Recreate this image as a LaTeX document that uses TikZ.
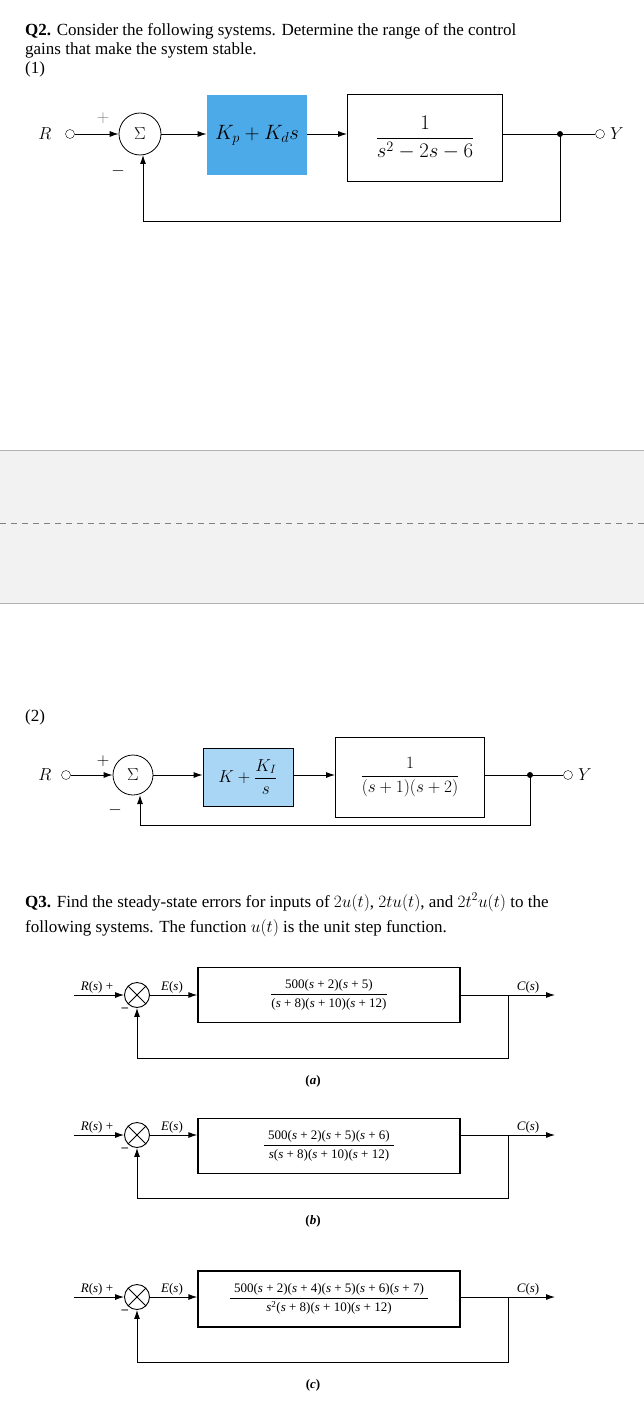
\documentclass[tikz,border=0pt]{standalone}
\usepackage{amsmath}
\usepackage{fontspec}
\setmainfont{Liberation Serif}
\newfontfamily\tms{Liberation Serif}
\usetikzlibrary{arrows.meta}
\definecolor{blueA}{HTML}{4DAAE8}
\definecolor{blueB}{HTML}{A9D6F5}
\definecolor{band}{HTML}{F2F2F2}
\tikzset{
 txt/.style={anchor=base west,inner sep=0pt,font=\fontsize{17}{19}\selectfont},
 lbl/.style={inner sep=0pt,font=\fontsize{18}{20}\selectfont},
 sm/.style={inner sep=0pt,font=\tms\fontsize{13}{15}\selectfont},
 sumc/.style={draw,circle,minimum size=42pt,inner sep=0pt,line width=0.8pt,font=\fontsize{18}{18}\selectfont},
 xsum/.style={draw,circle,minimum size=25pt,inner sep=0pt,line width=0.9pt,path picture={\draw[line width=0.9pt] (path picture bounding box.north west)--(path picture bounding box.south east) (path picture bounding box.north east)--(path picture bounding box.south west);}},
 port/.style={draw,circle,minimum size=9pt,inner sep=0pt,fill=white},
 dot/.style={circle,fill,minimum size=6pt,inner sep=0pt},
 blk/.style={draw,line width=0.9pt,inner sep=0pt},
 ar/.style={-{Latex[length=9pt,width=6pt]},line width=0.9pt},
 ln/.style={line width=0.9pt},
}
\newcommand{\fr}[2]{$\dfrac{\text{\,\,#1\,\,}}{\text{\rule{0pt}{12pt}#2}}$}
\begin{document}
\begin{tikzpicture}[x=1pt,y=-1pt]
\useasboundingbox (0,0) rectangle (644,1404);
% texts
\node[txt] (t1) at (25,36) {\textbf{Q2.} Consider the following systems. Determine the range of the control};
\node[txt] (t2) at (25,55) {gains that make the system stable.};
\node[txt] (t3) at (25,74) {(1)};
% diagram 1
\node[lbl] (R1) at (45,134) {$R$};
\node[port] (p1) at (70,134) {};
\node[sumc] (s1) at (140,134) {$\Sigma$};
\node[blk,draw=none,fill=blueA,minimum width=100pt,minimum height=80pt] (b1) at (257,135) {\fontsize{20}{22}\selectfont$K_p+K_d s$};
\node[blk,minimum width=155pt,minimum height=87pt] (g1) at (425,138) {\fontsize{21}{24}\selectfont$\dfrac{\;\;\;\;1\;\;\;\;}{s^2-2s-6}$};
\coordinate (j1) at (560,134);
\node[dot] at (j1) {};
\node[port] (o1) at (600,134) {};
\node[lbl,anchor=west] (Y1) at (610,134) {$Y$};
\draw[ar] (p1) -- (s1);
\draw[ar] (s1) -- (b1.west|-s1);
\draw[ar] (b1.east|-s1) -- (g1.west|-s1);
\draw[ln] (g1.east|-s1) -- (o1);
\draw[ar] (j1) |- (143,221) -- (143,155);
\node[font=\fontsize{16}{16}\selectfont,text=gray] at (103,118) {$+$};
\node[font=\fontsize{16}{16}\selectfont] at (118,171) {$-$};
% band
\fill[band] (0,450) rectangle (644,603);
\draw[gray!60] (0,450) -- (644,450) (0,603) -- (644,603);
\draw[gray,dash pattern=on 6pt off 5pt] (0,523) -- (644,523);
% (2)
\node[txt] (t4) at (25,721) {(2)};
\node[lbl] (R2) at (45,775) {$R$};
\node[port] (p2) at (66,775) {};
\node[sumc,minimum size=40pt] (s2) at (133,775) {$\Sigma$};
\node[blk,fill=blueB,minimum width=90pt,minimum height=58pt] (b2) at (248,777) {\fontsize{17}{19}\selectfont$K+\dfrac{K_I}{s}$};
\node[blk,minimum width=149pt,minimum height=80pt] (g2) at (410,777) {\fontsize{17}{20}\selectfont$\dfrac{1}{(s+1)(s+2)}$};
\coordinate (j2) at (530,775);
\node[dot] at (j2) {};
\node[port] (o2) at (568,775) {};
\node[lbl,anchor=west] (Y2) at (578,775) {$Y$};
\draw[ar] (p2) -- (s2);
\draw[ar] (s2) -- (b2.west|-s2);
\draw[ar] (b2.east|-s2) -- (g2.west|-s2);
\draw[ln] (g2.east|-s2) -- (o2);
\draw[ar] (j2) |- (140,825) -- (140,795);
\node[font=\fontsize{16}{16}\selectfont] at (103,761) {$+$};
\node[font=\fontsize{16}{16}\selectfont] at (115,810) {$-$};
% Q3
\node[txt] (t5) at (25,907) {\textbf{Q3.} Find the steady-state errors for inputs of $2u(t)$, $2tu(t)$, and $2t^2u(t)$ to the};
\node[txt] (t6) at (25,932) {following systems. The function $u(t)$ is the unit step function.};
% systems
\foreach \yy/\yb/\hh/\fb/\num/\den/\lab in {
 995/995/55/1058/{500(\textit{s} + 2)(\textit{s} + 5)}/{(\textit{s} + 8)(\textit{s} + 10)(\textit{s} + 12)}/a,
 1135/1146/55/1198/{500(\textit{s} + 2)(\textit{s} + 5)(\textit{s} + 6)}/{\textit{s}(\textit{s} + 8)(\textit{s} + 10)(\textit{s} + 12)}/b,
 1297/1299/56/1362/{500(\textit{s} + 2)(\textit{s} + 4)(\textit{s} + 5)(\textit{s} + 6)(\textit{s} + 7)}/{\textit{s}\textsuperscript{2}(\textit{s} + 8)(\textit{s} + 10)(\textit{s} + 12)}/c} {
 \coordinate (in\lab) at (74,\yy);
 \node[xsum] (x\lab) at (137,\yy) {};
 \node[blk,minimum width=262pt,minimum height=\hh pt,line width=1.4pt] (G\lab) at (329,\yb) {};
 \node[sm] (f\lab) at (329,\yb) {\fr{\num}{\den}};
 \coordinate (out\lab) at (555,\yy);
 \coordinate (j\lab) at (508,\yy);
 \draw[ar] (in\lab) -- (x\lab);
 \draw[ar] (x\lab) -- (G\lab.west|-x\lab);
 \draw[ar] (G\lab.east|-x\lab) -- (out\lab);
 \draw[ar] (j\lab) |- (137,\fb) -- (x\lab);
 \node[sm,anchor=south] at (97,\yy-2) {\textit{R}(\textit{s}) +};
 \node[sm,anchor=south] at (172,\yy-2) {\textit{E}(\textit{s})};
 \node[sm,anchor=south] at (528,\yy-2) {\textit{C}(\textit{s})};
 \node[sm] at (125,\yy+15) {\textbf{–}};
 \node[sm] at (313,\fb+23) {\textbf{(\textit{\lab})}};
}
\end{tikzpicture}
\end{document}
